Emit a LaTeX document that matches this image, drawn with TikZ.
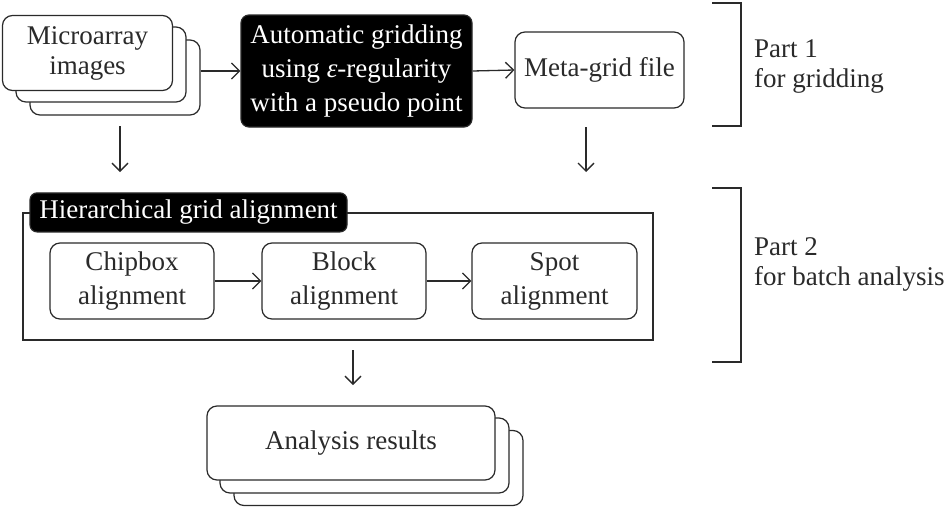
\documentclass[tikz,border=0pt]{standalone}
\usepackage{fontspec}
\setmainfont{Liberation Serif}
\usetikzlibrary{arrows.meta}
\definecolor{ink}{HTML}{2A2A2A}
\tikzset{
  whitebox/.style={draw=ink, line width=1.2pt, fill=white, rounded corners=10pt, align=center, text=ink, inner sep=0pt},
  darkbox/.style={draw=ink, line width=1.2pt, fill=black, rounded corners=8pt, align=center, text=white, inner sep=0pt},
  outerframe/.style={draw=ink, line width=1.2pt, inner sep=0pt},
  partlabel/.style={anchor=west, align=left, text=ink, inner sep=0pt},
  arr/.style={draw=ink, line width=1.3pt, -{Straight Barb[length=8pt,width=16pt]}},
  bracket/.style={draw=ink, line width=1.3pt},
}
\begin{document}
\begin{tikzpicture}[x=1pt, y=-1pt, font=\fontsize{27}{34}\selectfont]
    \useasboundingbox (0,0) rectangle (946,509);

    % Pila de imagenes
    \node[whitebox, minimum width=170, minimum height=75] (micro3) at (115,77.5) {};
    \node[whitebox, minimum width=170, minimum height=75] (micro2) at (101,64.5) {};
    \node[whitebox, minimum width=170, minimum height=75, font=\fontsize{27}{30}\selectfont] (micro) at (87.5,53) {Microarray\\images};

    % Gridding automatico
    \node[darkbox, minimum width=231, minimum height=112] (auto) at (356.5,71) {Automatic gridding\\using \textit{ε}-regularity\\with a pseudo point};
    \node[whitebox, minimum width=169, minimum height=76] (meta) at (599.5,70) {Meta-grid file};

    \draw[arr] (micro3.east |- auto.west) -- (auto.west);
    \draw[arr] (auto.east) -- (meta.west);

    % Flechas hacia abajo
    \coordinate (d1a) at (120,126);
    \coordinate (d1b) at (120,172);
    \coordinate (d2a) at (586,127);
    \coordinate (d2b) at (586,172);
    \draw[arr] (d1a) -- (d1b);
    \draw[arr] (d2a) -- (d2b);

    % Alineacion jerarquica
    \node[outerframe, minimum width=630, minimum height=127] (hier) at (338,276.5) {};
    \node[darkbox, anchor=west, minimum width=317, minimum height=39, rounded corners=7pt] (hierlabel) at ([xshift=7pt]hier.north west) {Hierarchical grid alignment};

    \node[whitebox, minimum width=164, minimum height=76] (chip) at (132,281) {Chipbox\\alignment};
    \node[whitebox, minimum width=164, minimum height=76] (block) at (344,281) {Block\\alignment};
    \node[whitebox, minimum width=165, minimum height=76] (spot) at (554.5,281) {Spot\\alignment};

    \draw[arr] (chip) -- (block);
    \draw[arr] (block) -- (spot);

    % Resultados
    \coordinate (d3a) at (353,350);
    \coordinate (d3b) at (353,385);
    \draw[arr] (d3a) -- (d3b);

    \node[whitebox, minimum width=289, minimum height=75] (res3) at (378.5,468) {};
    \node[whitebox, minimum width=289, minimum height=75] (res2) at (364.5,455.5) {};
    \node[whitebox, minimum width=288, minimum height=74] (res) at (351,443) {Analysis results};

    % Corchetes y etiquetas
    \draw[bracket] (712,3) -- (741,3) -- (741,126) -- (712,126);
    \draw[bracket] (712,188) -- (741,188) -- (741,362) -- (712,362);
    \node[partlabel, font=\fontsize{27}{30}\selectfont] (part1) at (754,66) {Part 1\\for gridding};
    \node[partlabel, font=\fontsize{27}{30}\selectfont] (part2) at (754,264) {Part 2\\for batch analysis};
\end{tikzpicture}
\end{document}
